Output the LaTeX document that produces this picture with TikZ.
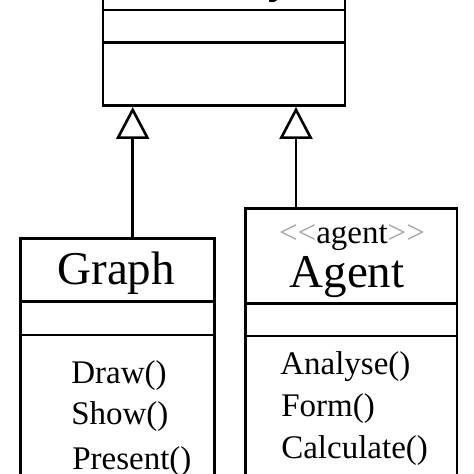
\documentclass[tikz,border=0pt]{standalone}
\usepackage{fontspec}
\setmainfont{Liberation Serif}
\usetikzlibrary{arrows.meta}
\begin{document}
\begin{tikzpicture}[x=1pt,y=1pt,
  line width=2.6pt,
  box/.style={draw=black, line width=2.6pt, fill=none, inner sep=0pt},
  sep/.style={draw=black, line width=2.6pt},
  gen/.style={draw=black, line width=2.6pt, -{Triangle[open, width=33pt, length=32pt]}},
  title/.style={inner sep=0pt, anchor=base, font=\fontsize{47}{50}\selectfont},
  method/.style={inner sep=0pt, anchor=base west, font=\fontsize{33}{36}\selectfont},
  stereo/.style={inner sep=0pt, anchor=base, font=\fontsize{33}{36}\selectfont}]
\useasboundingbox (0,0) rectangle (474,474);
\clip (0,0) rectangle (474,474);
\fill[white] (0,0) rectangle (474,474);
% top (base) class, mostly cut off
\node[box, anchor=south west, minimum width=241.8pt, minimum height=170pt] (base) at (101.7,367) {};
\node[title] (basename) at (222,481.5) {Library};
\draw[sep] (base.west |- 0,464) -- (base.east |- 0,464);
\draw[sep] (base.west |- 0,431.3) -- (base.east |- 0,431.3);
% Graph class
\node[box, anchor=north west, minimum width=194.3pt, minimum height=290pt] (graph) at (19,236.7) {};
\draw[sep] (graph.west |- 0,172.3) -- (graph.east |- 0,172.3);
\draw[sep] (graph.west |- 0,139) -- (graph.east |- 0,139);
\node[title] (gname) at (116.2,189) {Graph};
\node[method] (gm1) at (70,90.7) {Draw()};
\node[method] (gm2) at (70,49) {Show()};
\node[method] (gm3) at (71,5) {Present()};
% Agent class
\node[box, anchor=north west, minimum width=211.7pt, minimum height=320pt] (agent) at (244,266.7) {};
\draw[sep] (agent.west |- 0,170.7) -- (agent.east |- 0,170.7);
\draw[sep] (agent.west |- 0,138) -- (agent.east |- 0,138);
\node[stereo] (ster) at (352,230.7) {\textcolor{gray!70}{<\kern0pt<}agent\textcolor{gray!70}{>\kern0pt>}};
\node[title] (aname) at (347,186.7) {Agent};
\node[method] (am1) at (279,99) {Analyse()};
\node[method] (am2) at (280,57.3) {Form()};
\node[method] (am3) at (280,15.7) {Calculate()};
% generalisation arrows
\coordinate (g1) at (132.7,236.7);
\coordinate (g1t) at (132.7,367);
\coordinate (a1) at (296,266.7);
\coordinate (a1t) at (296,367);
\draw[gen] (g1) -- (g1t);
\draw[gen] (a1) -- (a1t);
\end{tikzpicture}
\end{document}
